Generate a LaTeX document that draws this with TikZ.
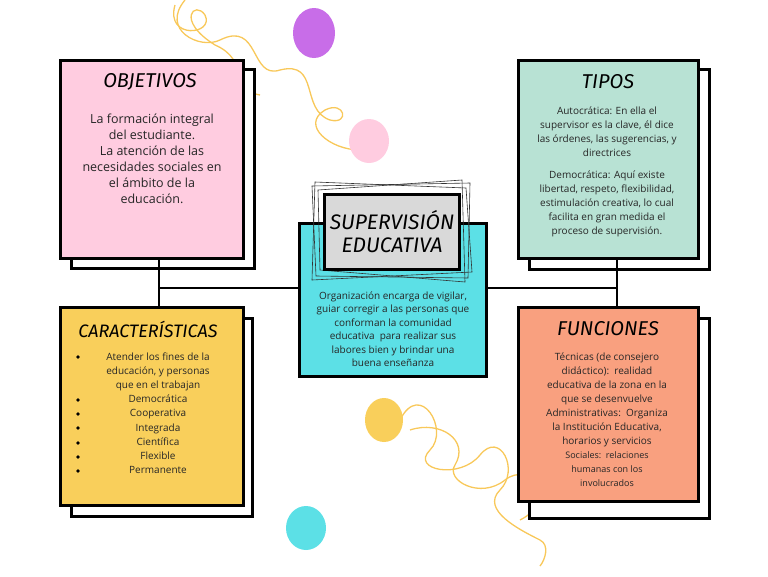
\documentclass[tikz,border=0pt]{standalone}
\usepackage{fontspec}
\setmainfont{Open Sans}
\newfontfamily\ttlfont{Fira Sans}
\begin{document}
\begin{tikzpicture}[x=1pt,y=-1pt,
  shadowbox/.style={draw=black,line width=3pt,fill=white},
  frontbox/.style={draw=black,line width=3pt},
  ttl/.style={font=\ttlfont\itshape\fontsize{20}{21}\selectfont,anchor=center},
  body/.style={align=center,text=black!85},
  conn/.style={line width=2.5pt}]
\useasboundingbox (0,0) rectangle (768,576);
\definecolor{cpink}{HTML}{FFCCE0}\definecolor{cmint}{HTML}{B8E2D4}
\definecolor{cyel}{HTML}{F9CF5B}\definecolor{corange}{HTML}{F9A07F}
\definecolor{ccyan}{HTML}{5CE0E6}\definecolor{cpurp}{HTML}{C86DE8}
\definecolor{csq}{HTML}{F8C85A}
% squiggles
\draw[csq,line width=1.3pt] (185,0) .. controls (160,30) and (200,50) .. (220,40) .. controls (260,20) and (250,80) .. (280,70) .. controls (320,60) and (300,110) .. (330,120) .. controls (350,125) and (345,100) .. (325,110) .. controls (300,125) and (330,150) .. (360,150);
\draw[csq,line width=1.3pt] (175,5) .. controls (165,40) and (215,35) .. (205,15) .. controls (195,0) and (175,20) .. (215,45) .. controls (250,60) and (230,90) .. (260,95);
\draw[csq,line width=1.3pt] (400,420) .. controls (420,380) and (450,430) .. (430,450) .. controls (410,470) and (460,480) .. (480,455) .. controls (500,430) and (520,470) .. (500,490) .. controls (480,510) and (520,530) .. (540,540) .. controls (550,545) and (545,560) .. (540,566);
\draw[csq,line width=1.3pt] (410,430) .. controls (440,420) and (470,440) .. (455,465) .. controls (445,480) and (480,500) .. (505,480) .. controls (530,460) and (560,500) .. (520,520);
% circles
\fill[cpurp] (314,33) ellipse (21 and 25);
\fill[cpink] (369,141) ellipse (20 and 22);
\fill[cyel] (384,420) ellipse (19 and 22);
\fill[ccyan] (306,528) ellipse (20 and 22);
% boxes
\draw[shadowbox] (71,69) rectangle (254,268);
\node[frontbox,fill=cpink,minimum width=183pt,minimum height=198pt,anchor=north west] (obj) at (59,59) {};
\draw[shadowbox] (529,69) rectangle (709,269);
\node[frontbox,fill=cmint,minimum width=180pt,minimum height=198pt,anchor=north west] (tip) at (517,59) {};
\draw[shadowbox] (71,318) rectangle (252,516);
\node[frontbox,fill=cyel,minimum width=183pt,minimum height=198pt,anchor=north west] (car) at (59,306) {};
\draw[shadowbox] (529,318) rectangle (709,518);
\node[frontbox,fill=corange,minimum width=180pt,minimum height=194pt,anchor=north west] (fun) at (517,306) {};
\node[frontbox,fill=ccyan,minimum width=187pt,minimum height=153pt,anchor=north west] (cen) at (298,222) {};
% connectors
\coordinate (jl) at (159,288); \coordinate (jr) at (617,288);
\draw[conn] (obj.south -| jl) -- (car.north -| jl);
\draw[conn] (jl) -- (cen.west |- jl);
\draw[conn] (tip.south -| jr) -- (fun.north -| jr);
\draw[conn] (jr) -- (cen.east |- jr);
% scribble frames
\draw[black!80,line width=0.6pt] (312,186) -- (470,183) -- (468,278) -- (316,276) -- cycle;
\draw[black!80,line width=0.6pt] (315,182) -- (466,188) -- (472,272) -- (312,280) -- cycle;
\draw[black!80,line width=0.6pt] (318,190) -- (462,180) -- (465,282) -- (320,270) -- cycle;
\node[draw=black,line width=3pt,fill=black!15,minimum width=135pt,minimum height=75pt,anchor=north west] (sup) at (323,193) {};
\node[font=\ttlfont\itshape\fontsize{21}{23}\selectfont,align=center] at (sup.center) {SUPERVISIÓN\\EDUCATIVA};
% titles
\node[ttl] at (150,82) {OBJETIVOS};
\node[ttl] at (608,82) {TIPOS};
\node[ttl,font=\ttlfont\itshape\fontsize{18}{20}\selectfont] at (148,329) {CARACTERÍSTICAS};
\node[ttl] at (608,329) {FUNCIONES};
% texts
\node[body,font=\fontsize{12.5}{16}\selectfont,anchor=north] at (152,110) {La formación integral\\del estudiante.\\La atención de las\\necesidades sociales en\\el ámbito de la\\educación.};
\node[body,font=\fontsize{10}{14}\selectfont,anchor=north] at (607,103) {Autocrática: En ella el\\supervisor es la clave, él dice\\las órdenes, las sugerencias, y\\directrices\\[8pt]Democrática: Aquí existe\\libertad, respeto, flexibilidad,\\estimulación creativa, lo cual\\facilita en gran medida el\\proceso de supervisión.};
\node[body,font=\fontsize{10}{13.5}\selectfont,anchor=north] at (393,288) {Organización encarga de vigilar,\\guiar corregir a las personas que\\conforman la comunidad\\educativa\ \ para realizar sus\\labores bien y brindar una\\buena enseñanza};
\node[body,font=\fontsize{10}{14}\selectfont,anchor=north] at (607,349) {Técnicas (de consejero\\didáctico):\ \ realidad\\educativa de la zona en la\\que se desenvuelve\\Administrativas:\ \ Organiza\\la Institución Educativa,\\horarios y servicios\\{\fontsize{9}{12}\selectfont Sociales:\ \ relaciones}\\{\fontsize{9}{12}\selectfont humanas con los}\\{\fontsize{9}{12}\selectfont involucrados}};
\node[body,font=\fontsize{10}{14.2}\selectfont,anchor=north] at (158,349) {Atender los fines de la\\educación, y personas\\que en el trabajan\\Democrática\\Cooperativa\\Integrada\\Científica\\Flexible\\Permanente};
\foreach \yy in {357,400,414,428,443,457,471} \fill (78,\yy) circle (1.8);
\end{tikzpicture}
\end{document}
